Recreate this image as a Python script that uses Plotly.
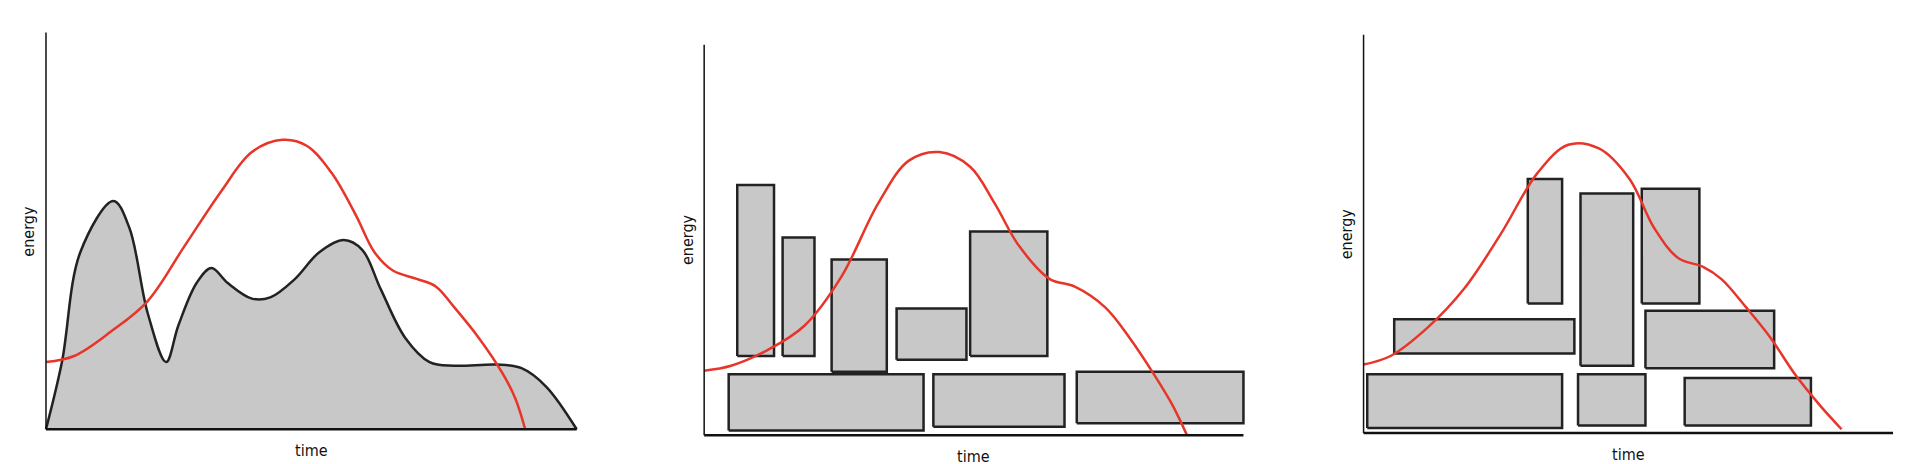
import plotly.graph_objects as go
from plotly.subplots import make_subplots

# panel 1: smooth energy area
area_t = [0, 13, 28, 55, 68, 83, 98, 108, 123, 135, 148, 168, 183, 203, 223, 243, 258, 273, 293, 313, 333, 368, 388, 408, 433]
area_e = [0, 55, 145, 187, 165, 95, 55, 85, 120, 132, 120, 107, 108, 123, 145, 155, 147, 115, 75, 55, 52, 53, 50, 35, 0]
red1_t = [0, 23, 53, 83, 113, 143, 168, 193, 213, 233, 253, 268, 283, 303, 318, 333, 353, 373, 383, 391]
red1_e = [55, 60, 80, 105, 150, 195, 227, 237, 232, 210, 175, 145, 130, 123, 117, 100, 75, 45, 25, 0]

# panel 2: blocks
red2_t = [0, 22, 52, 82, 112, 142, 167, 192, 217, 237, 257, 282, 302, 327, 347, 367, 382, 394]
red2_e = [53, 57, 70, 90, 130, 190, 225, 232, 220, 190, 155, 128, 122, 105, 80, 50, 25, 0]
blk2_t0 = [27, 64, 104, 157, 217, 20, 187, 304]
blk2_t1 = [57, 90, 149, 214, 280, 179, 294, 440]
blk2_e0 = [65, 65, 52, 62, 65, 4, 7, 10]
blk2_e1 = [205, 162, 144, 104, 167, 50, 50, 52]

# panel 3: blocks
red3_t = [0, 22, 52, 82, 112, 142, 167, 192, 217, 237, 257, 277, 292, 312, 332, 352, 372, 390]
red3_e = [56, 63, 86, 118, 163, 213, 236, 233, 208, 168, 143, 136, 126, 103, 78, 48, 23, 3]
blk3_t0 = [134, 177, 227, 25, 230, 3, 175, 262]
blk3_t1 = [162, 220, 274, 172, 335, 162, 230, 365]
blk3_e0 = [106, 55, 106, 65, 53, 4, 6, 6]
blk3_e1 = [208, 196, 200, 93, 100, 48, 48, 45]

GRAY = "#c8c8c8"
RED = "#e8352a"
FONT = "DejaVu Sans Condensed"

fig = make_subplots(rows=1, cols=3)

fig.add_trace(go.Scatter(x=area_t, y=area_e, mode="lines", fill="toself", fillcolor=GRAY,
                         line=dict(color="#222", width=2.5, shape="spline")), row=1, col=1)
fig.add_trace(go.Scatter(x=red1_t, y=red1_e, mode="lines",
                         line=dict(color=RED, width=2.5, shape="spline")), row=1, col=1)

def add_blocks(t0, t1, e0, e1, col):
    for a, b, c, d in zip(t0, t1, e0, e1):
        fig.add_trace(go.Scatter(x=[a, b, b, a, a], y=[c, c, d, d, c], mode="lines",
                                 fill="toself", fillcolor=GRAY,
                                 line=dict(color="#222", width=2.5)), row=1, col=col)

add_blocks(blk2_t0, blk2_t1, blk2_e0, blk2_e1, 2)
fig.add_trace(go.Scatter(x=red2_t, y=red2_e, mode="lines",
                         line=dict(color=RED, width=2.5, shape="spline")), row=1, col=2)
add_blocks(blk3_t0, blk3_t1, blk3_e0, blk3_e1, 3)
fig.add_trace(go.Scatter(x=red3_t, y=red3_e, mode="lines",
                         line=dict(color=RED, width=2.5, shape="spline")), row=1, col=3)

# axis layout (units ~ pixels of the sketch)
panels = [
    dict(dom=[0, 480/1560], xr=[-31, 449], yr=[-35, 345], xend=433, ytop=325),
    dict(dom=[540/1560, 1040/1560], xr=[-28, 472], yr=[-30, 350], xend=440, ytop=320),
    dict(dom=[1080/1560, 1], xr=[-26, 454], yr=[-32, 348], xend=432, ytop=326),
]
for i, p in enumerate(panels, start=1):
    fig.update_xaxes(domain=p["dom"], range=p["xr"], visible=False, row=1, col=i)
    fig.update_yaxes(domain=[0, 1], range=p["yr"], visible=False, row=1, col=i)
    xa = "x" if i == 1 else f"x{i}"
    ya = "y" if i == 1 else f"y{i}"
    fig.add_shape(type="line", xref=xa, yref=ya, x0=0, x1=0, y0=0, y1=p["ytop"],
                  line=dict(color="#111", width=1.5))
    fig.add_shape(type="line", xref=xa, yref=ya, x0=0, x1=p["xend"], y0=0, y1=0,
                  line=dict(color="#111", width=2.5))
    fig.add_annotation(xref=xa, yref=ya, x=p["xend"]/2, y=-8, text="time", showarrow=False,
                       yanchor="top", font=dict(family=FONT, size=16, color="#111"))
    fig.add_annotation(xref=xa, yref=ya, x=-14, y=p["ytop"]*0.5, text="energy", showarrow=False,
                       textangle=-90, font=dict(family=FONT, size=16, color="#111"))

fig.update_layout(width=1912, height=464, margin=dict(l=0, r=0, t=0, b=0),
                  plot_bgcolor="white", paper_bgcolor="white", showlegend=False)

fig.write_html("out.html")
